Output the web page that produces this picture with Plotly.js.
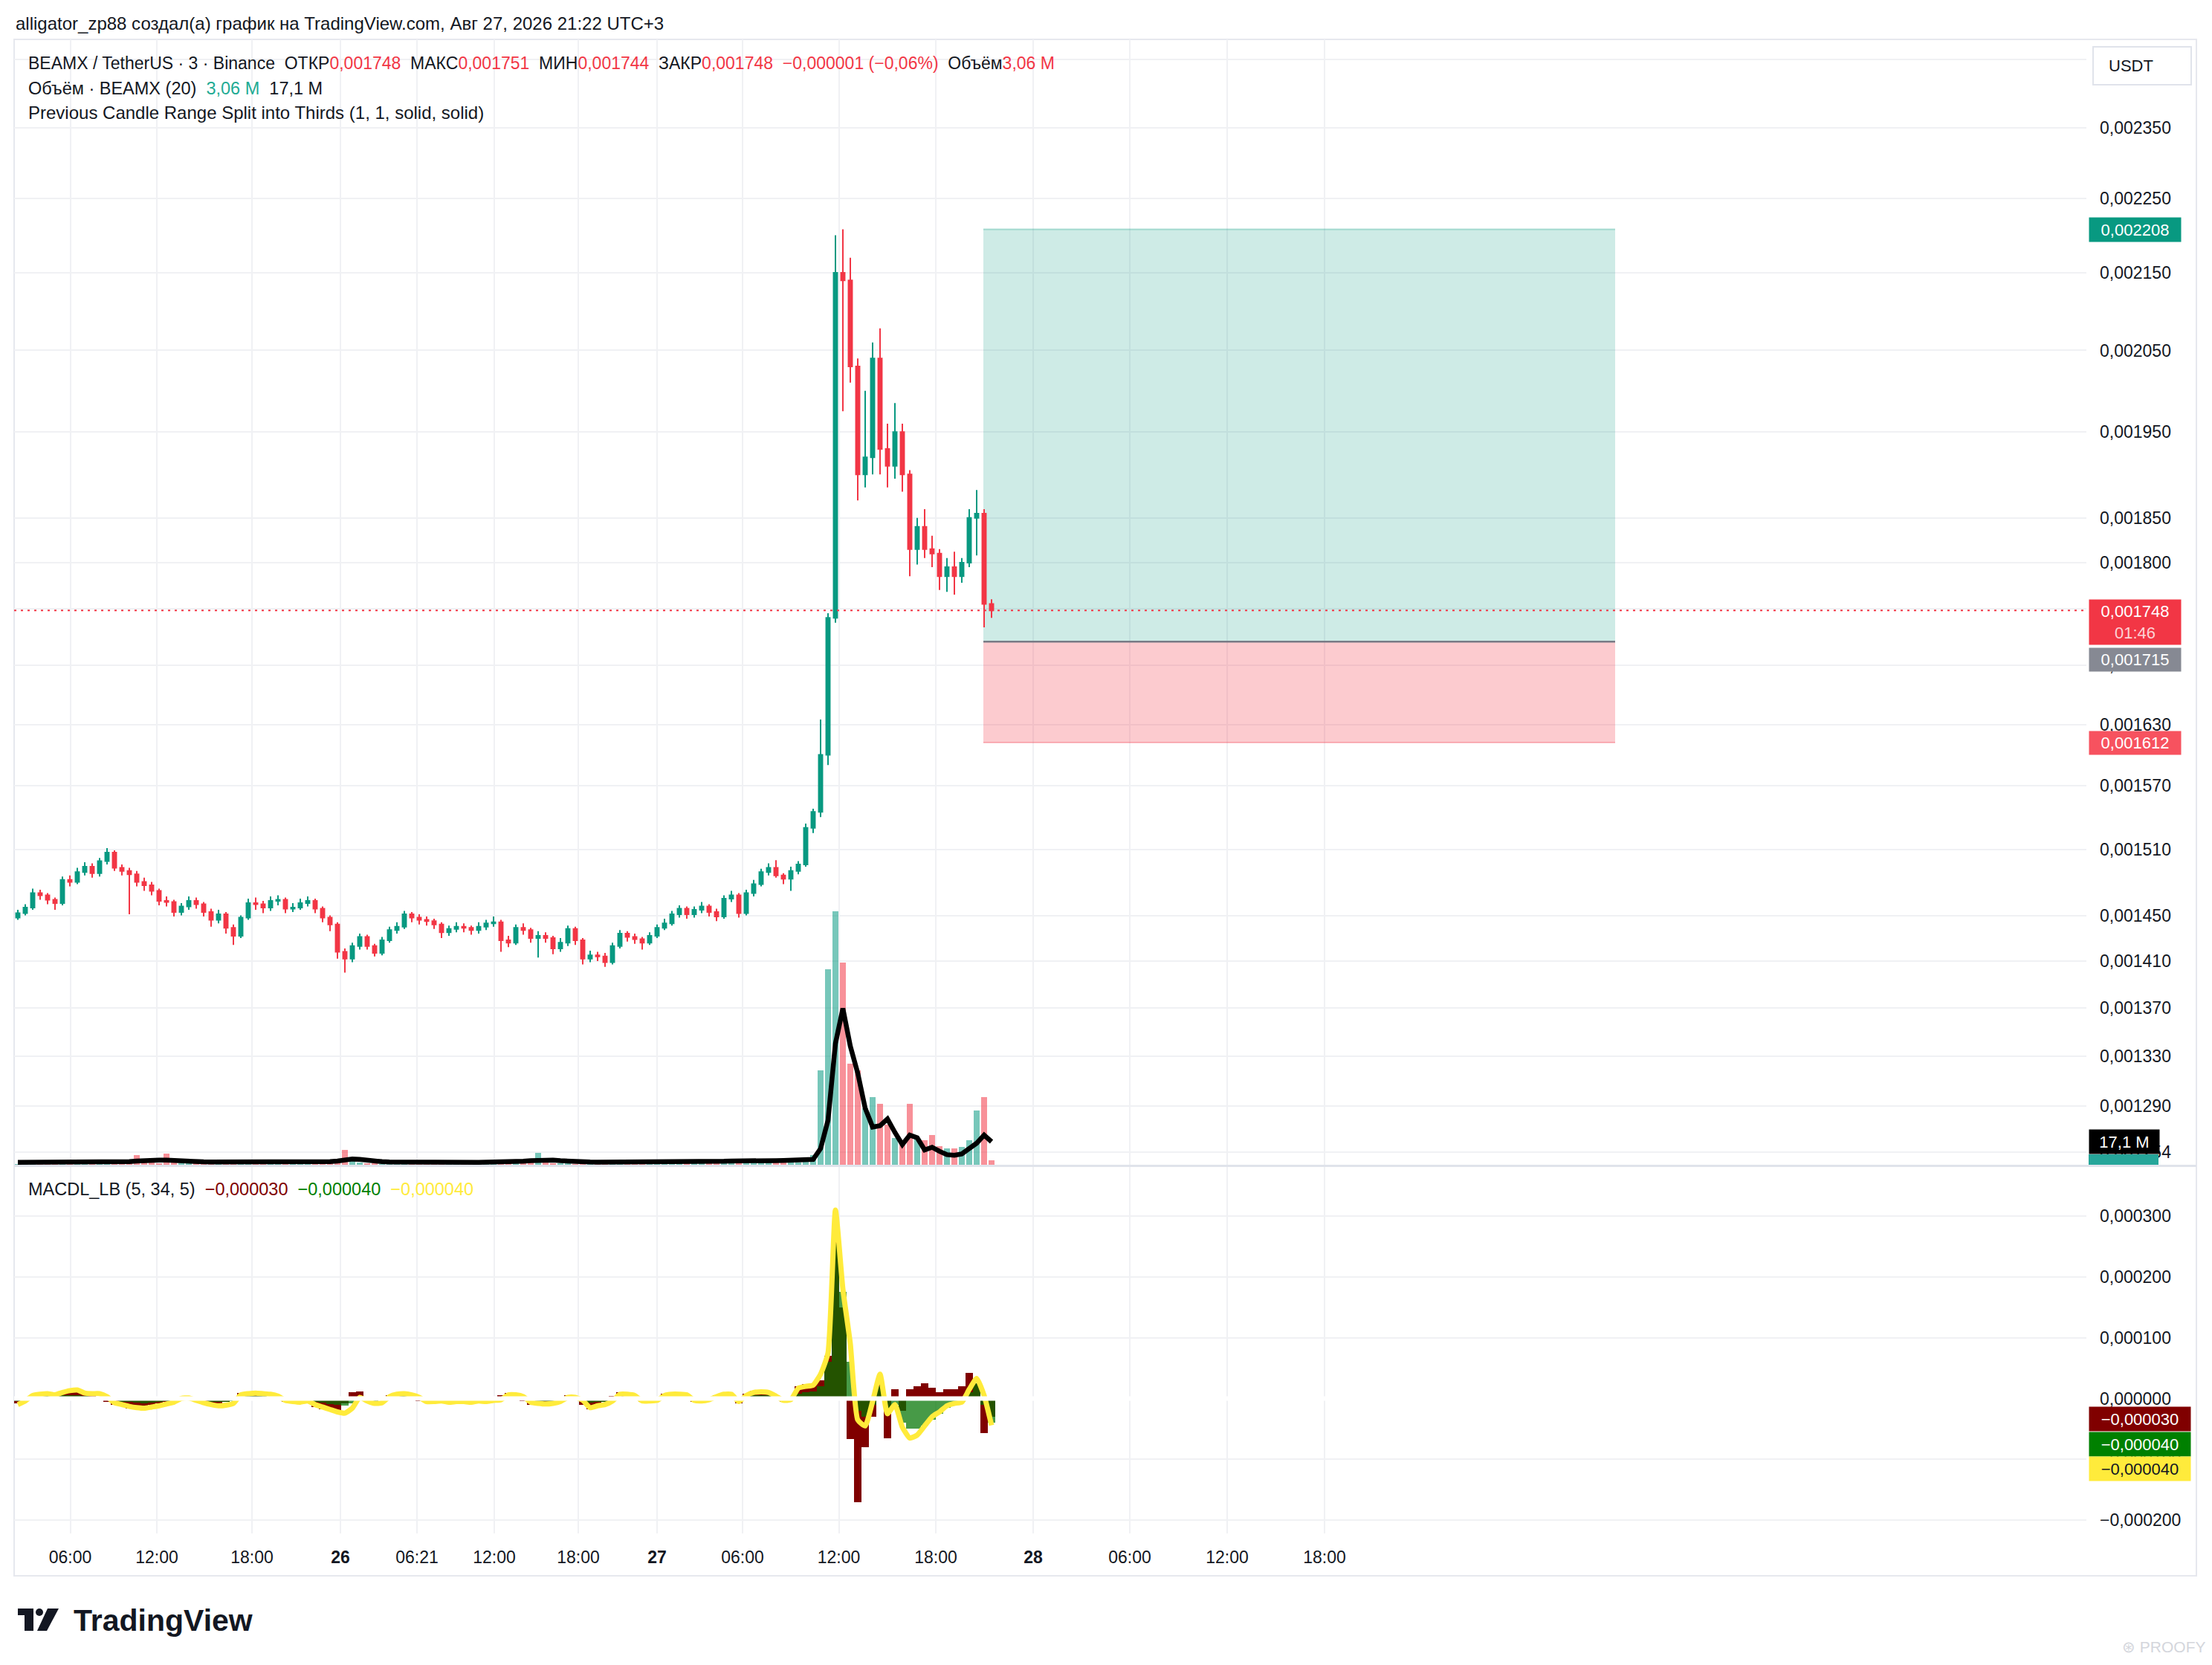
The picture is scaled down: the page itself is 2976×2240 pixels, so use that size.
<!DOCTYPE html>
<html>
<head>
<meta charset="utf-8">
<title>BEAMX / TetherUS</title>
<script src="https://cdn.plot.ly/plotly-3.0.1.min.js"></script>
<style>
html,body{margin:0;padding:0;background:#ffffff;}
#chart{width:2976px;height:2240px;}
</style>
</head>
<body>
<div id="chart"></div>
<script>
// Prices and MACD values in millionths of USDT, volumes in millions.
const candleOpen = [
1448,1452,1457,1470,1468,1464,1461,1482,1480,1489,
1494,1488,1499,1507,1493,1490,1487,1480,1477,1472,
1463,1462,1453,1458,1463,1460,1453,1446,1451,1439,
1432,1448,1461,1460,1457,1463,1464,1456,1457,1461,
1463,1456,1448,1442,1418,1412,1423,1431,1423,1417,
1428,1437,1440,1451,1448,1446,1445,1442,1435,1438,
1440,1439,1437,1440,1443,1444,1428,1426,1439,1437,
1430,1432,1430,1421,1426,1438,1428,1412,1415,1414,
1409,1423,1434,1431,1429,1426,1432,1439,1443,1451,
1456,1451,1455,1458,1453,1449,1465,1468,1452,1470,
1478,1489,1493,1486,1483,1490,1496,1530,1545,1600,
1740,2150,2140,2030,1900,1920,2040,1930,1910,1950,
1900,1815,1840,1815,1810,1785,1795,1785,1800,1850,
1855,1755];
const candleHigh = [
1455,1460,1474,1473,1470,1466,1485,1486,1493,1498,
1497,1502,1511,1509,1496,1493,1490,1484,1480,1474,
1467,1464,1461,1467,1466,1462,1456,1455,1453,1442,
1450,1465,1466,1463,1467,1468,1466,1461,1465,1467,
1465,1458,1450,1444,1421,1426,1434,1433,1425,1431,
1440,1444,1454,1453,1451,1449,1447,1444,1441,1444,
1443,1441,1444,1446,1449,1446,1432,1442,1443,1439,
1436,1435,1432,1430,1441,1440,1430,1419,1418,1417,
1426,1437,1436,1434,1431,1435,1442,1447,1454,1459,
1458,1458,1462,1460,1456,1468,1472,1470,1473,1482,
1492,1497,1500,1488,1494,1499,1534,1548,1635,1745,
2200,2208,2170,2040,2000,2060,2078,1960,1985,1960,
1905,1850,1860,1830,1815,1805,1812,1805,1860,1882,
1860,1760];
const candleLow = [
1446,1450,1455,1464,1460,1455,1459,1476,1478,1486,
1484,1485,1496,1490,1486,1451,1476,1472,1468,1459,
1458,1449,1450,1455,1456,1449,1440,1443,1434,1424,
1430,1446,1455,1452,1454,1459,1452,1453,1455,1458,
1452,1444,1436,1412,1400,1409,1420,1420,1414,1415,
1426,1434,1438,1444,1442,1441,1438,1430,1432,1435,
1435,1433,1434,1437,1440,1418,1422,1424,1433,1426,
1413,1426,1416,1418,1423,1424,1407,1409,1410,1405,
1407,1421,1427,1425,1420,1424,1430,1437,1441,1448,
1447,1448,1452,1449,1445,1447,1462,1448,1450,1467,
1476,1486,1484,1478,1472,1487,1494,1525,1540,1590,
1735,1975,2010,1870,1885,1900,1900,1885,1895,1880,
1785,1798,1805,1795,1770,1768,1765,1778,1795,1808,
1730,1740];
const candleClose = [
1452,1457,1470,1468,1464,1461,1482,1480,1489,1494,
1488,1499,1507,1493,1490,1487,1480,1477,1472,1463,
1462,1453,1458,1463,1460,1453,1446,1451,1439,1432,
1448,1461,1460,1457,1463,1464,1456,1457,1461,1463,
1456,1448,1442,1418,1412,1423,1431,1423,1417,1428,
1437,1440,1451,1448,1446,1445,1442,1435,1438,1440,
1439,1437,1440,1443,1444,1428,1426,1439,1437,1430,
1432,1430,1421,1426,1438,1428,1412,1415,1414,1409,
1423,1434,1431,1429,1426,1432,1439,1443,1451,1456,
1451,1455,1458,1453,1449,1465,1468,1452,1470,1478,
1489,1493,1486,1483,1490,1496,1530,1545,1600,1740,
2150,2140,2030,1900,1920,2040,1930,1910,1950,1900,
1815,1840,1815,1810,1785,1795,1785,1800,1850,1855,
1755,1748];
const volumeM = [
0.8,0.6,1.2,0.9,0.7,1.5,1.0,4.0,3.5,1.2,
0.9,1.1,1.4,0.8,0.9,1.3,7.0,1.5,5.0,1.2,
8.0,1.4,1.0,0.9,1.1,4.0,1.2,0.8,1.0,1.6,
0.9,3.5,0.8,0.7,0.9,0.8,0.6,0.7,0.9,1.0,
1.3,1.2,1.5,2.5,11.0,3.0,1.5,1.2,0.9,0.8,
0.7,0.8,0.9,0.7,0.6,0.7,0.6,0.8,0.7,0.6,
0.7,0.8,0.6,0.7,0.9,1.0,0.9,1.2,3.5,1.5,
9.0,1.8,1.3,1.0,0.9,0.8,1.0,0.9,0.8,0.9,
1.0,3.0,1.1,2.8,1.0,0.9,1.0,0.9,1.1,1.0,
1.2,1.1,1.3,1.2,1.4,1.5,1.6,2.8,2.5,1.8,
1.6,1.5,2.5,2.3,2.2,1.8,3.0,7.0,70,145,
188,150,75,70,42,50,45,30,20,18,
45,20,18,22,14,12,12,13,18,40,
50,3.06];
const volumeMA20 = [
1.8,1.8,1.9,1.9,2.0,2.0,2.1,2.2,2.3,2.2,
2.1,2.0,2.0,2.0,2.1,2.3,2.8,3.2,3.5,3.5,
3.4,3.0,2.6,2.4,2.3,2.2,2.1,2.1,2.0,2.0,
2.1,2.1,2.0,1.9,1.9,1.8,1.8,1.8,1.9,2.0,
2.1,2.2,2.4,2.8,3.6,4.2,4.0,3.3,2.7,2.3,
2.1,2.0,1.9,1.8,1.8,1.7,1.7,1.7,1.7,1.7,
1.8,1.8,1.8,1.9,1.9,1.9,2.0,2.2,2.6,3.0,
3.4,3.6,3.4,3.0,2.6,2.3,2.1,2.0,1.9,1.9,
2.0,2.1,2.2,2.2,2.1,2.0,2.0,2.0,2.0,2.0,
2.1,2.2,2.3,2.4,2.5,2.6,2.8,3.0,3.1,3.1,
3.0,3.0,3.1,3.2,3.3,3.3,3.5,4.0,12,33,
90,116,88,68,42,28,29,34,24,15,
22,20,11,13,10,7.5,7,8,12,16,
22,17.1];
const macdMaroon = [
-8,0,6,9,7,8,12,12,10,7,
5,2,-6,-10,-13,-16,-14,-13,-11,-8,
-5,-1,3,0,-6,-9,-12,-10,-6,-2,
9,10,8,6,3,-2,-6,-6,-3,-8,
-14,-18,-20,-20,-8,10,12,-6,-10,-2,
6,9,6,2,-4,-7,-5,-6,-6,-4,
-7,-5,-5,-3,-1,5,9,4,-4,-10,
-10,-8,-4,0,5,1,-10,-18,-10,-5,
4,10,6,0,-6,-4,2,8,9,5,
0,-6,-5,0,6,9,3,-8,8,13,
12,8,-2,-5,3,20,24,25,30,70,
265,150,-67,-171,-80,-30,30,-65,15,-20,
15,20,25,18,10,15,15,20,42,25,
-57,-30];
const macdGreen = [
-4,-2,2,3,4,3,5,6,6,4,
3,3,1,-3,-5,-6,-7,-8,-7,-6,
-4,-3,0,0,-1,-3,-5,-6,-5,-4,
3,4,4,4,3,2,-1,-2,-3,-2,
-5,-7,-9,-11,-12,-8,1,-2,-4,-3,
1,3,4,3,1,-2,-2,-2,-3,-2,
-2,-3,-2,-2,-1,-1,3,3,1,-3,
-4,-4,-4,-2,1,1,-1,-7,-6,-5,
-2,3,3,2,-2,-2,-1,2,3,3,
3,-1,-2,-1,1,3,3,-2,2,5,
5,5,2,-1,-1,8,10,11,20,60,
255,175,60,-20,-30,-10,20,-20,-10,-40,
-50,-50,-45,-35,-25,-15,-10,-5,10,25,
-10,-40];
const macdYellow = [
-10,-4,5,7,8,6,10,13,14,9,
8,8,3,-7,-10,-13,-15,-16,-14,-12,
-9,-6,0,1,-3,-7,-10,-12,-11,-8,
6,8,9,8,7,4,-3,-5,-6,-4,
-10,-14,-18,-22,-24,-16,2,-4,-8,-7,
3,7,8,6,2,-5,-5,-4,-6,-5,
-5,-6,-4,-5,-3,-2,6,6,3,-6,
-8,-9,-8,-5,2,2,-3,-15,-12,-10,
-4,7,7,5,-4,-4,-3,5,7,7,
6,-3,-4,-2,3,7,7,-5,5,10,
11,10,4,-3,-2,17,20,22,40,75,
310,180,90,-35,-45,-5,40,-25,-10,-47,
-65,-60,-45,-30,-22,-12,-8,-6,15,33,
5,-44];
const timeTickBars = [7.05,18.7,31.5,43.4,53.7,64.1,75.4,86,97.5,110.45,123.5,136.6,149.6,162.7,175.8];
const timeTickLabels = ['06:00','12:00','18:00','<b>26</b>','06:21','12:00','18:00','<b>27</b>','06:00','12:00','18:00','<b>28</b>','06:00','12:00','18:00'];
const priceTicks = [2450,2350,2250,2150,2050,1950,1850,1800,1750,1690,1630,1570,1510,1450,1410,1370,1330,1290,1254];
const priceTickLabels = ['0,002450','0,002350','0,002250','0,002150','0,002050','0,001950','0,001850','0,001800','0,001750','0,001690','0,001630','0,001570','0,001510','0,001450','0,001410','0,001370','0,001330','0,001290','0,001254'];
const macdTicks = [300,200,100,0,-100,-200];
const macdTickLabels = ['0,000300','0,000200','0,000100','0,000000','\u22120,000100','\u22120,000200'];
const longPosition = {entry: 1715, target: 2208, stop: 1612, fromBar: 129.9, toBar: 214.9};
const lastPrice = 1748;
const lastVolMA = 17.1;

// ---------- layout helpers ----------
const W = 2976, H = 2240;
const X = p => p / W;
const Y = p => 1 - p / H;
const FONT = 'Liberation Sans, Arial, sans-serif';
const TXT = '#131722';
const UP = '#089981', DOWN = '#f23645';
const GRID = '#f0f1f4';
const XR = [-0.5, 278.3];

const bars = candleClose.map((_, i) => i);
const volColors = candleClose.map((c, i) => c >= candleOpen[i] ? 'rgba(8,153,129,0.55)' : 'rgba(242,54,69,0.55)');

const traces = [
  {type:'candlestick', x:bars, open:candleOpen, high:candleHigh, low:candleLow, close:candleClose,
   xaxis:'x', yaxis:'y', hoverinfo:'skip',
   increasing:{line:{color:UP, width:2}, fillcolor:UP},
   decreasing:{line:{color:DOWN, width:2}, fillcolor:DOWN}, whiskerwidth:0},
  {type:'bar', x:bars, y:volumeM, xaxis:'x', yaxis:'y3', width:0.75,
   marker:{color:volColors, line:{width:0}}, hoverinfo:'skip'},
  {type:'scatter', mode:'lines', x:bars, y:volumeMA20, xaxis:'x', yaxis:'y3',
   line:{color:'#000000', width:6.5}, hoverinfo:'skip'},
  {type:'bar', x:bars, y:macdMaroon, xaxis:'x', yaxis:'y2', width:1,
   marker:{color:'#800000', line:{width:0}}, hoverinfo:'skip'},
  {type:'bar', x:bars, y:macdGreen, xaxis:'x', yaxis:'y2', width:1,
   marker:{color:'rgba(0,115,0,0.72)', line:{width:0}}, hoverinfo:'skip'},
  {type:'scatter', mode:'lines', x:bars, y:macdYellow, xaxis:'x', yaxis:'y2',
   line:{color:'#ffeb3b', width:7, shape:'spline', smoothing:0.5}, hoverinfo:'skip'}
];

const axisFont = {family:FONT, size:23, color:TXT};
const layout = {
  width:W, height:H, margin:{l:0, r:0, t:0, b:0},
  paper_bgcolor:'#ffffff', plot_bgcolor:'rgba(0,0,0,0)',
  font:{family:FONT, size:23, color:TXT},
  showlegend:false, dragmode:false, barmode:'overlay', bargap:0, hovermode:false,
  xaxis:{domain:[X(19), X(2807)], range:XR, anchor:'y2', tickmode:'array',
    tickvals:timeTickBars, ticktext:timeTickLabels, showgrid:true, gridcolor:GRID, gridwidth:2,
    zeroline:false, showline:false, ticks:'', ticklabelstandoff:16, tickfont:axisFont,
    rangeslider:{visible:false}, fixedrange:true},
  yaxis:{domain:[Y(1567), Y(53)], type:'log', range:[Math.log10(1244.5), Math.log10(2480.6)],
    side:'right', anchor:'x', tickmode:'array', tickvals:priceTicks, ticktext:priceTickLabels,
    showgrid:true, gridcolor:GRID, gridwidth:2, zeroline:false, showline:false, ticks:'',
    ticklabelstandoff:17, tickfont:axisFont, fixedrange:true},
  yaxis2:{domain:[Y(2063), Y(1570)], range:[-221.9, 380.8], side:'right', anchor:'x',
    tickmode:'array', tickvals:macdTicks, ticktext:macdTickLabels,
    showgrid:true, gridcolor:GRID, gridwidth:2, zeroline:false, showline:false, ticks:'',
    ticklabelstandoff:17, tickfont:axisFont, fixedrange:true},
  yaxis3:{overlaying:'y', anchor:'x', range:[0, 835], visible:false, showgrid:false, zeroline:false, fixedrange:true},
  shapes:[
    {type:'rect', xref:'paper', yref:'paper', x0:X(19), x1:X(2955), y0:Y(2120), y1:Y(53),
     line:{color:'#e6e8ee', width:2}, fillcolor:'rgba(0,0,0,0)', layer:'below'},
    {type:'line', xref:'paper', yref:'paper', x0:X(19), x1:X(2955), y0:Y(1568.5), y1:Y(1568.5),
     line:{color:'#e0e3eb', width:3}},
    {type:'rect', xref:'x', yref:'y', x0:longPosition.fromBar, x1:longPosition.toBar,
     y0:longPosition.entry, y1:longPosition.target, fillcolor:'rgba(8,153,129,0.2)', line:{width:0}, layer:'between'},
    {type:'line', xref:'x', yref:'y', x0:longPosition.fromBar, x1:longPosition.toBar,
     y0:longPosition.target, y1:longPosition.target, line:{color:'rgba(8,153,129,0.3)', width:2}, layer:'between'},
    {type:'rect', xref:'x', yref:'y', x0:longPosition.fromBar, x1:longPosition.toBar,
     y0:longPosition.stop, y1:longPosition.entry, fillcolor:'rgba(242,54,69,0.26)', line:{width:0}, layer:'between'},
    {type:'line', xref:'x', yref:'y', x0:longPosition.fromBar, x1:longPosition.toBar,
     y0:longPosition.stop, y1:longPosition.stop, line:{color:'rgba(242,54,69,0.3)', width:2}, layer:'between'},
    {type:'line', xref:'x', yref:'y', x0:longPosition.fromBar, x1:longPosition.toBar,
     y0:longPosition.entry, y1:longPosition.entry, line:{color:'#787b86', width:2.5}},
    {type:'line', xref:'x', yref:'y', x0:XR[0], x1:XR[1], y0:lastPrice, y1:lastPrice,
     line:{color:DOWN, width:2, dash:'3px,6px'}},
    {type:'line', xref:'x', yref:'y2', x0:XR[0], x1:XR[1], y0:0, y1:0,
     line:{color:'#ffffff', width:6}},
    {type:'rect', xref:'paper', yref:'paper', x0:X(2816), x1:X(2948), y0:Y(114), y1:Y(63),
     fillcolor:'#ffffff', line:{color:'#e0e3eb', width:2}},
    {type:'rect', xref:'paper', yref:'paper', x0:X(2810), x1:X(2904), y0:Y(1567), y1:Y(1553),
     fillcolor:'#26a69a', line:{width:0}},
    // TradingView logo mark
    {type:'rect', xref:'paper', yref:'paper', x0:X(24), x1:X(45), y0:Y(2173), y1:Y(2164), fillcolor:TXT, line:{width:0}},
    {type:'rect', xref:'paper', yref:'paper', x0:X(33), x1:X(45), y0:Y(2194), y1:Y(2164), fillcolor:TXT, line:{width:0}},
    {type:'circle', xref:'paper', yref:'paper', x0:X(48), x1:X(58), y0:Y(2174), y1:Y(2164), fillcolor:TXT, line:{width:0}},
    {type:'path', xref:'paper', yref:'paper',
     path:'M'+X(64)+','+Y(2164)+' L'+X(79)+','+Y(2164)+' L'+X(63)+','+Y(2194)+' L'+X(50)+','+Y(2194)+' Z',
     fillcolor:TXT, line:{width:0}}
  ],
  annotations:[]
};

const A = layout.annotations;
const red = s => '<span style="color:#f23645">' + s + '</span>';
const sp = '\u00a0\u00a0';
function textAt(x, y, text, size, extra) {
  A.push(Object.assign({xref:'paper', yref:'paper', x:X(x), y:Y(y), xanchor:'left', yanchor:'middle',
    text:text, showarrow:false, font:{family:FONT, size:size, color:TXT}, align:'left'}, extra || {}));
}
textAt(19, 31, 'alligator_zp88 создал(а) график на TradingView.com, Авг 27, 2026 21:22 UTC+3', 24);
textAt(36, 85, 'BEAMX / TetherUS · 3 · Binance' + sp + 'ОТКР' + red('0,001748') + sp + 'МАКС' + red('0,001751') + sp +
  'МИН' + red('0,001744') + sp + 'ЗАКР' + red('0,001748') + sp + red('\u22120,000001 (\u22120,06%)') + sp + 'Объём' + red('3,06\u00a0M'), 23);
textAt(36, 119, 'Объём · BEAMX (20)' + sp + '<span style="color:#22ab94">3,06\u00a0M</span>' + sp + '17,1\u00a0M', 23.5);
textAt(36, 152, 'Previous Candle Range Split into Thirds (1, 1, solid, solid)', 24);
textAt(36, 1600, 'MACDL_LB (5, 34, 5)' + sp + '<span style="color:#800000">\u22120,000030</span>' + sp +
  '<span style="color:#008000">\u22120,000040</span>' + sp + '<span style="color:#ffeb3b">\u22120,000040</span>', 23.5);
textAt(2835, 88.5, 'USDT', 22);
textAt(97, 2180, '<b>TradingView</b>', 41);
textAt(2970, 2215, '\u229b PROOFY', 21, {xanchor:'right', font:{family:FONT, size:21, color:'#d4d6dc'}});

function boxLabel(yref, y, text, bg, fg, w, h, yanchor, yshift) {
  A.push({xref:'paper', yref:yref, x:X(2810), y:y, xanchor:'left', yanchor:yanchor || 'middle', yshift:yshift || 0,
    text:text, showarrow:false, bgcolor:bg, borderpad:0, width:w, height:h, align:'center', valign:'middle',
    font:{family:FONT, size:22, color:fg}});
}
boxLabel('y', Math.log10(longPosition.target), '0,002208', UP, '#ffffff', 123, 32);
boxLabel('y', Math.log10(lastPrice), '0,001748<br><span style="color:#fcd2d5">01:46</span>', DOWN, '#ffffff', 123, 60, 'top', 15);
boxLabel('y', Math.log10(longPosition.entry), '0,001715', '#868993', '#ffffff', 123, 31, 'top', -8);
boxLabel('y', Math.log10(longPosition.stop), '0,001612', '#f7525f', '#ffffff', 123, 31);
boxLabel('y3', lastVolMA, '17,1\u00a0M', '#000000', '#ffffff', 94, 32);
boxLabel('y2', macdMaroon[macdMaroon.length - 1], '\u22120,000030', '#800000', '#ffffff', 136, 32, 'middle', -3);
boxLabel('y2', macdGreen[macdGreen.length - 1], '\u22120,000040', '#008000', '#ffffff', 136, 32, 'middle', -29);
boxLabel('y2', macdYellow[macdYellow.length - 1], '\u22120,000040', '#ffeb3b', TXT, 136, 32, 'middle', -59);

Plotly.newPlot('chart', traces, layout, {staticPlot:true, displayModeBar:false, responsive:false});
</script>
</body>
</html>
